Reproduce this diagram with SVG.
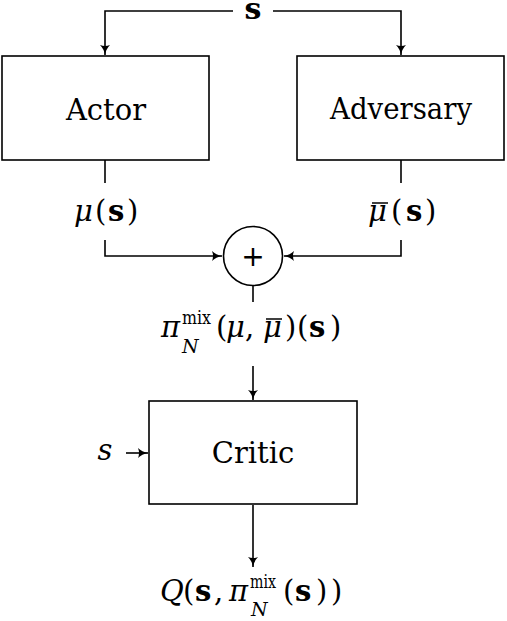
<svg xmlns="http://www.w3.org/2000/svg" width="507" height="621" viewBox="0 0 507 621">
<style>
.box{fill:#fff;stroke:#000;stroke-width:1.6}
.ln{fill:none;stroke:#000;stroke-width:1.6}
.bar{stroke:#000;stroke-width:1.5}
.i{font-style:italic}
.b{font-weight:bold}
.sm{font-size:19px}
</style>
<defs>
<marker id="ah" markerWidth="12" markerHeight="10" refX="10" refY="5" orient="auto" markerUnits="userSpaceOnUse">
<path d="M0,0 Q4,4 10,5 Q4,6 0,10 Q2,5 0,0 Z" fill="#000"/>
</marker>
</defs>
<g id="connectors">
<path class="ln" d="M233,11 H105 V55" marker-end="url(#ah)"/>
<path class="ln" d="M273,11 H401 V55" marker-end="url(#ah)"/>
<path class="ln" d="M105,160 V183"/>
<path class="ln" d="M401,160 V183"/>
<path class="ln" d="M105,240 V256 H222" marker-end="url(#ah)"/>
<path class="ln" d="M401,240 V256 H284" marker-end="url(#ah)"/>
<path class="ln" d="M253,286 V302"/>
<path class="ln" d="M253,366 V400" marker-end="url(#ah)"/>
<path class="ln" d="M126,453 H148" marker-end="url(#ah)"/>
<path class="ln" d="M253,505 V567" marker-end="url(#ah)"/>
</g>
<g font-family="DejaVu Serif, serif" font-size="29" fill="#000">
<g id="input-s"><text class="b" font-size="30" x="253" y="19" text-anchor="middle">s</text></g>
<g id="actor">
<rect class="box" x="2" y="56" width="207" height="104"/>
<text x="106" y="120" text-anchor="middle">Actor</text>
</g>
<g id="adversary">
<rect class="box" x="297" y="56" width="207" height="104"/>
<text x="330" y="119" textLength="142" lengthAdjust="spacingAndGlyphs">Adversary</text>
</g>
<g id="mu-label"><text y="221"><tspan class="i" x="74">μ</tspan><tspan x="95">(</tspan><tspan class="b" x="108">s</tspan><tspan x="127">)</tspan></text></g>
<g id="mubar-label">
<text y="221"><tspan class="i" x="368">μ</tspan><tspan x="391">(</tspan><tspan class="b" x="406">s</tspan><tspan x="425">)</tspan></text>
<line class="bar" x1="372" y1="203" x2="388" y2="203"/>
</g>
<g id="sum">
<circle class="box" cx="253" cy="256" r="29.5"/>
<text font-family="DejaVu Sans, sans-serif" font-size="28" x="253" y="266" text-anchor="middle">+</text>
</g>
<g id="mix-label">
<text y="337"><tspan class="i" x="161">π</tspan><tspan class="sm" x="182" y="324" textLength="29" lengthAdjust="spacingAndGlyphs">mix</tspan><tspan class="sm i" x="182" y="353">N</tspan><tspan x="216" y="337">(</tspan><tspan class="i" x="226">μ</tspan><tspan x="245">,</tspan><tspan class="i" x="263">μ</tspan><tspan x="285">)</tspan><tspan x="297">(</tspan><tspan class="b" x="309">s</tspan><tspan x="330">)</tspan></text>
<line class="bar" x1="266" y1="319" x2="282" y2="319"/>
</g>
<g id="critic">
<rect class="box" x="149" y="401" width="208" height="103"/>
<text x="253" y="463" text-anchor="middle">Critic</text>
</g>
<g id="critic-s"><text class="i" x="105" y="460" text-anchor="middle">s</text></g>
<g id="q-label"><text y="601"><tspan class="i" x="160">Q</tspan><tspan x="183">(</tspan><tspan class="b" x="195">s</tspan><tspan x="214">,</tspan><tspan class="i" x="229">π</tspan><tspan class="sm" x="250" y="588" textLength="26" lengthAdjust="spacingAndGlyphs">mix</tspan><tspan class="sm i" x="251" y="616">N</tspan><tspan x="283" y="601">(</tspan><tspan class="b" x="295">s</tspan><tspan x="316">)</tspan><tspan x="331">)</tspan></text></g>
</g>
</svg>
